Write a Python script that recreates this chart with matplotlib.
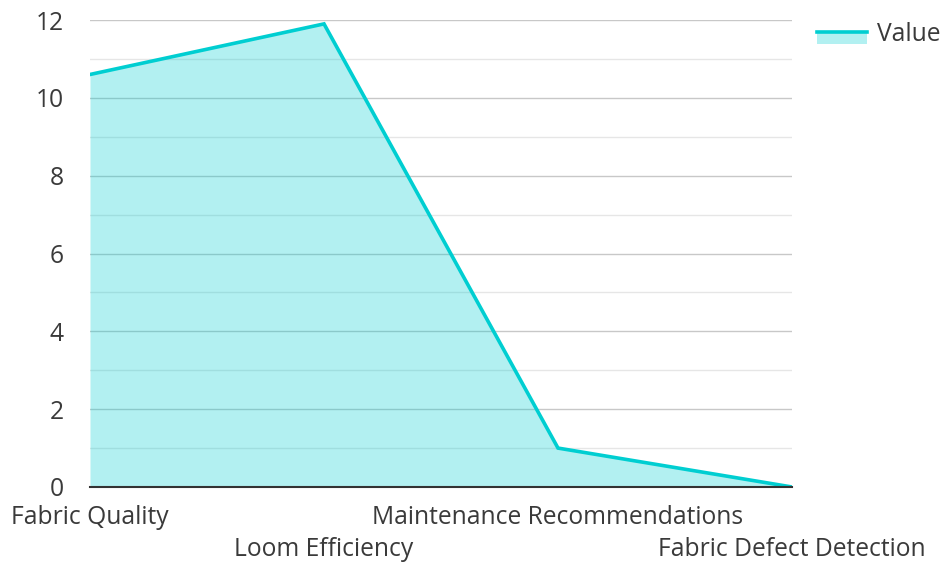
import matplotlib
matplotlib.use("Agg")
import matplotlib.pyplot as plt
from matplotlib.patches import Rectangle
from matplotlib.legend_handler import HandlerBase
from matplotlib.lines import Line2D
from matplotlib.ticker import MultipleLocator

plt.rcParams['font.family'] = ['Open Sans', 'DejaVu Sans']

categories = ["Fabric Quality", "Loom Efficiency", "Maintenance Recommendations", "Fabric Defect Detection"]
values = [10.6, 11.9, 1.0, 0.0]
series_name = "Value"

line_color = "#00CED1"
fill_alpha = 0.3
text_color = "#3a3a3a"
fs = 17.7

fig = plt.figure(figsize=(9.42, 5.62), dpi=100)
ax = fig.add_axes([90/942, 1-487/562, (792-90)/942, (487-20)/562])

x = list(range(len(categories)))
ax.fill_between(x, values, 0, color=line_color, alpha=fill_alpha, linewidth=0, zorder=2)
ax.plot(x, values, color=line_color, linewidth=2.6, zorder=3, solid_joinstyle='miter')

ax.set_xlim(0, len(categories)-1)
ax.set_ylim(0, 12)
ax.yaxis.set_major_locator(MultipleLocator(2))
ax.yaxis.set_minor_locator(MultipleLocator(1))
ax.grid(which='major', axis='y', color='#c8c8c8', linewidth=1.0, zorder=1)
ax.grid(which='minor', axis='y', color='#e6e6e6', linewidth=1.0, zorder=1)
for s in ['top', 'right', 'left']:
    ax.spines[s].set_visible(False)
ax.spines['bottom'].set_color('#333333')
ax.spines['bottom'].set_linewidth(1.5)
ax.spines['bottom'].set_zorder(4)
ax.tick_params(axis='y', which='both', length=0, pad=19, labelsize=fs, labelcolor=text_color)
ax.tick_params(axis='x', which='both', length=0, labelsize=fs, labelcolor=text_color)
ax.set_xticks(x)
ax.set_xticklabels([])
for i, c in enumerate(categories):
    off = 0 if i % 2 == 0 else 1
    ax.annotate(c, xy=(i, 0), xycoords=('data', 'axes fraction'),
                xytext=(0, -31 - off*32), textcoords='offset pixels',
                ha='center', va='center', fontsize=fs, color=text_color)


class AreaHandler(HandlerBase):
    def create_artists(self, legend, orig_handle, xdescent, ydescent, width, height, fontsize, trans):
        center = -ydescent + height / 2 + 0.5
        r = Rectangle((-xdescent, center - 8.8), width, 8.8,
                      facecolor=line_color, alpha=fill_alpha, edgecolor='none', transform=trans)
        l = Line2D([-xdescent, -xdescent + width], [center, center],
                   color=line_color, linewidth=2.6, transform=trans)
        return [r, l]

handle = Rectangle((0, 0), 1, 1)
leg = fig.legend([handle], [series_name], handler_map={Rectangle: AreaHandler()},
                 loc='upper left', bbox_to_anchor=(817/942, 1-22/562), frameon=False,
                 fontsize=fs, handlelength=2.05, handleheight=0.7, handletextpad=0.4,
                 borderaxespad=0, borderpad=0)
for t in leg.get_texts():
    t.set_color(text_color)

fig.savefig("out.png", dpi=100)
